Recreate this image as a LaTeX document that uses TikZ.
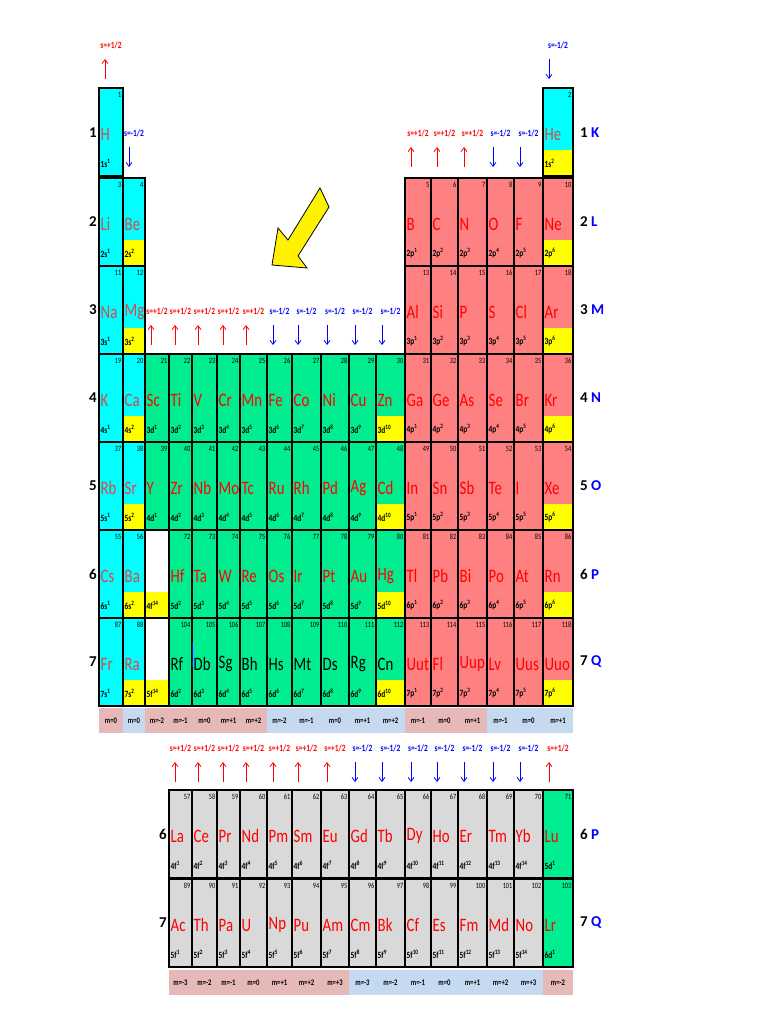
\documentclass[tikz,border=0pt]{standalone}
\usepackage{fontspec}
\setmainfont{Carlito}
\newfontfamily\condfont[FakeStretch=0.78]{Carlito}
\usetikzlibrary{arrows.meta}
\definecolor{cS}{HTML}{00FFFF}
\definecolor{cD}{HTML}{00EE90}
\definecolor{cP}{HTML}{FF8080}
\definecolor{cF}{HTML}{D9D9D9}
\definecolor{cY}{HTML}{FFFF00}
\definecolor{sR}{HTML}{D84848}
\definecolor{mP}{HTML}{E6B8B7}
\definecolor{mB}{HTML}{C5D9F1}
\definecolor{spR}{HTML}{FF0000}
\definecolor{spB}{HTML}{0000FF}
\newcommand\supx[1]{\textsuperscript{#1}}
\def\cx{{99,123,145,169,192,217,240,267,292,321,349,376,405,431,458,487,514,543,573}}
\tikzset{
 numtxt/.style={font=\condfont\fontsize{8}{8}\selectfont,inner sep=0pt,anchor=north east},
 symtxt/.style={font=\condfont\fontsize{19}{19}\selectfont,inner sep=0pt,anchor=west},
 conftxt/.style={font=\condfont\bfseries\fontsize{9.5}{9.5}\selectfont,inner sep=0pt,anchor=west},
 spintxt/.style={font=\condfont\bfseries\fontsize{9.5}{9.5}\selectfont,inner sep=0pt},
 mtxt/.style={font=\condfont\bfseries\fontsize{8.5}{8.5}\selectfont,inner sep=0pt},
 pertxt/.style={font=\bfseries\fontsize{15}{15}\selectfont,inner sep=0pt},
 upar/.style={spR,line width=0.8pt,-{Straight Barb[length=4pt,width=6pt]}},
 dnar/.style={spB,line width=0.8pt,-{Straight Barb[length=4pt,width=6pt]}},
 cellline/.style={black,line width=1.2pt}
}
% \cell{col}{top}{num}{sym}{conf}{fill}{bottom}{symcolor}
\newcommand\cell[8]{%
 \pgfmathsetmacro\xl{\cx[#1-1]}\pgfmathsetmacro\xr{\cx[#1]}%
 \fill[#6] (\xl,#2) rectangle (\xr,#2+88);
 \fill[#7] (\xl,#2+62) rectangle (\xr,#2+88);
 \draw[cellline] (\xl,#2) rectangle (\xr,#2+88);
 \node[numtxt] (n#1x#2) at (\xr-1.5,#2+4) {#3};
 \node[symtxt,text=#8] (s#1x#2) at (\xl+1.5,#2+46) {#4};
 \node[conftxt] (c#1x#2) at (\xl+1.5,#2+75) {#5};
}
\newcommand\mcell[4]{% col, top, color, text
 \pgfmathsetmacro\xl{\cx[#1-1]}\pgfmathsetmacro\xr{\cx[#1]}%
 \fill[#3] (\xl,#2) rectangle (\xr,#2+25);
 \node[mtxt] (m#1x#2) at ({(\xl+\xr)/2},#2+12.5) {#4};
}
\newcommand\spin[4]{% col, labely, up/dn, text
 \pgfmathsetmacro\xl{\cx[#1-1]}\pgfmathsetmacro\xr{\cx[#1]}%
 \ifnum#3=1
 \node[spintxt,text=spR] (sp#1x#2) at ({(\xl+\xr)/2},#2) {#4};
 \coordinate (a#1x#2) at (\xl+6,#2+34); \coordinate (b#1x#2) at (\xl+6,#2+14);
 \draw[upar] (a#1x#2) -- (b#1x#2);
 \else
 \node[spintxt,text=spB] (sp#1x#2) at ({(\xl+\xr)/2},#2) {#4};
 \coordinate (a#1x#2) at (\xl+6,#2+14); \coordinate (b#1x#2) at (\xl+6,#2+34);
 \draw[dnar] (a#1x#2) -- (b#1x#2);
 \fi
}
\begin{document}
\begin{tikzpicture}[x=1pt,y=-1pt]
\useasboundingbox (0,0) rectangle (768,1024);
% row 1
\cell{1}{88}{1}{H}{1s\supx1}{cS}{cS}{sR}
\cell{18}{88}{2}{He}{1s\supx2}{cS}{cY}{sR}
% row 2
\cell{1}{178}{3}{Li}{2s\supx1}{cS}{cS}{sR}
\cell{2}{178}{4}{Be}{2s\supx2}{cS}{cY}{sR}
\cell{13}{178}{5}{B}{2p\supx1}{cP}{cP}{red}
\cell{14}{178}{6}{C}{2p\supx2}{cP}{cP}{red}
\cell{15}{178}{7}{N}{2p\supx3}{cP}{cP}{red}
\cell{16}{178}{8}{O}{2p\supx4}{cP}{cP}{red}
\cell{17}{178}{9}{F}{2p\supx5}{cP}{cP}{red}
\cell{18}{178}{10}{Ne}{2p\supx6}{cP}{cY}{red}
% row 3
\cell{1}{266}{11}{Na}{3s\supx1}{cS}{cS}{sR}
\cell{2}{266}{12}{Mg}{3s\supx2}{cS}{cY}{sR}
\cell{13}{266}{13}{Al}{3p\supx1}{cP}{cP}{red}
\cell{14}{266}{14}{Si}{3p\supx2}{cP}{cP}{red}
\cell{15}{266}{15}{P}{3p\supx3}{cP}{cP}{red}
\cell{16}{266}{16}{S}{3p\supx4}{cP}{cP}{red}
\cell{17}{266}{17}{Cl}{3p\supx5}{cP}{cP}{red}
\cell{18}{266}{18}{Ar}{3p\supx6}{cP}{cY}{red}
% row 4
\cell{1}{354}{19}{K}{4s\supx1}{cS}{cS}{sR}
\cell{2}{354}{20}{Ca}{4s\supx2}{cS}{cY}{sR}
\cell{3}{354}{21}{Sc}{3d\supx1}{cD}{cD}{red}
\cell{4}{354}{22}{Ti}{3d\supx2}{cD}{cD}{red}
\cell{5}{354}{23}{V}{3d\supx3}{cD}{cD}{red}
\cell{6}{354}{24}{Cr}{3d\supx4}{cD}{cD}{red}
\cell{7}{354}{25}{Mn}{3d\supx5}{cD}{cD}{red}
\cell{8}{354}{26}{Fe}{3d\supx6}{cD}{cD}{red}
\cell{9}{354}{27}{Co}{3d\supx7}{cD}{cD}{red}
\cell{10}{354}{28}{Ni}{3d\supx8}{cD}{cD}{red}
\cell{11}{354}{29}{Cu}{3d\supx9}{cD}{cD}{red}
\cell{12}{354}{30}{Zn}{3d\supx{10}}{cD}{cY}{red}
\cell{13}{354}{31}{Ga}{4p\supx1}{cP}{cP}{red}
\cell{14}{354}{32}{Ge}{4p\supx2}{cP}{cP}{red}
\cell{15}{354}{33}{As}{4p\supx3}{cP}{cP}{red}
\cell{16}{354}{34}{Se}{4p\supx4}{cP}{cP}{red}
\cell{17}{354}{35}{Br}{4p\supx5}{cP}{cP}{red}
\cell{18}{354}{36}{Kr}{4p\supx6}{cP}{cY}{red}
% row 5
\cell{1}{442}{37}{Rb}{5s\supx1}{cS}{cS}{sR}
\cell{2}{442}{38}{Sr}{5s\supx2}{cS}{cY}{sR}
\cell{3}{442}{39}{Y}{4d\supx1}{cD}{cD}{red}
\cell{4}{442}{40}{Zr}{4d\supx2}{cD}{cD}{red}
\cell{5}{442}{41}{Nb}{4d\supx3}{cD}{cD}{red}
\cell{6}{442}{42}{Mo}{4d\supx4}{cD}{cD}{red}
\cell{7}{442}{43}{Tc}{4d\supx5}{cD}{cD}{red}
\cell{8}{442}{44}{Ru}{4d\supx6}{cD}{cD}{red}
\cell{9}{442}{45}{Rh}{4d\supx7}{cD}{cD}{red}
\cell{10}{442}{46}{Pd}{4d\supx8}{cD}{cD}{red}
\cell{11}{442}{47}{Ag}{4d\supx9}{cD}{cD}{red}
\cell{12}{442}{48}{Cd}{4d\supx{10}}{cD}{cY}{red}
\cell{13}{442}{49}{In}{5p\supx1}{cP}{cP}{red}
\cell{14}{442}{50}{Sn}{5p\supx2}{cP}{cP}{red}
\cell{15}{442}{51}{Sb}{5p\supx3}{cP}{cP}{red}
\cell{16}{442}{52}{Te}{5p\supx4}{cP}{cP}{red}
\cell{17}{442}{53}{I}{5p\supx5}{cP}{cP}{red}
\cell{18}{442}{54}{Xe}{5p\supx6}{cP}{cY}{red}
% row 6
\cell{1}{530}{55}{Cs}{6s\supx1}{cS}{cS}{sR}
\cell{2}{530}{56}{Ba}{6s\supx2}{cS}{cY}{sR}
\cell{3}{530}{}{}{4f\supx{14}}{white}{cY}{red}
\cell{4}{530}{72}{Hf}{5d\supx2}{cD}{cD}{red}
\cell{5}{530}{73}{Ta}{5d\supx3}{cD}{cD}{red}
\cell{6}{530}{74}{W}{5d\supx4}{cD}{cD}{red}
\cell{7}{530}{75}{Re}{5d\supx5}{cD}{cD}{red}
\cell{8}{530}{76}{Os}{5d\supx6}{cD}{cD}{red}
\cell{9}{530}{77}{Ir}{5d\supx7}{cD}{cD}{red}
\cell{10}{530}{78}{Pt}{5d\supx8}{cD}{cD}{red}
\cell{11}{530}{79}{Au}{5d\supx9}{cD}{cD}{red}
\cell{12}{530}{80}{Hg}{5d\supx{10}}{cD}{cY}{red}
\cell{13}{530}{81}{Tl}{6p\supx1}{cP}{cP}{red}
\cell{14}{530}{82}{Pb}{6p\supx2}{cP}{cP}{red}
\cell{15}{530}{83}{Bi}{6p\supx3}{cP}{cP}{red}
\cell{16}{530}{84}{Po}{6p\supx4}{cP}{cP}{red}
\cell{17}{530}{85}{At}{6p\supx5}{cP}{cP}{red}
\cell{18}{530}{86}{Rn}{6p\supx6}{cP}{cY}{red}
% row 7
\cell{1}{618}{87}{Fr}{7s\supx1}{cS}{cS}{sR}
\cell{2}{618}{88}{Ra}{7s\supx2}{cS}{cY}{sR}
\cell{3}{618}{}{}{5f\supx{14}}{white}{cY}{red}
\cell{4}{618}{104}{Rf}{6d\supx2}{cD}{cD}{black}
\cell{5}{618}{105}{Db}{6d\supx3}{cD}{cD}{black}
\cell{6}{618}{106}{Sg}{6d\supx4}{cD}{cD}{black}
\cell{7}{618}{107}{Bh}{6d\supx5}{cD}{cD}{black}
\cell{8}{618}{108}{Hs}{6d\supx6}{cD}{cD}{black}
\cell{9}{618}{109}{Mt}{6d\supx7}{cD}{cD}{black}
\cell{10}{618}{110}{Ds}{6d\supx8}{cD}{cD}{black}
\cell{11}{618}{111}{Rg}{6d\supx9}{cD}{cD}{black}
\cell{12}{618}{112}{Cn}{6d\supx{10}}{cD}{cY}{black}
\cell{13}{618}{113}{Uut}{7p\supx1}{cP}{cP}{red}
\cell{14}{618}{114}{Fl}{7p\supx2}{cP}{cP}{red}
\cell{15}{618}{115}{Uup}{7p\supx3}{cP}{cP}{red}
\cell{16}{618}{116}{Lv}{7p\supx4}{cP}{cP}{red}
\cell{17}{618}{117}{Uus}{7p\supx5}{cP}{cP}{red}
\cell{18}{618}{118}{Uuo}{7p\supx6}{cP}{cY}{red}
\draw[blue,line width=1.5pt] (192.5,642) -- (192.5,667);
% f block
\cell{4}{790}{57}{La}{4f\supx1}{cF}{cF}{red}
\cell{5}{790}{58}{Ce}{4f\supx2}{cF}{cF}{red}
\cell{6}{790}{59}{Pr}{4f\supx3}{cF}{cF}{red}
\cell{7}{790}{60}{Nd}{4f\supx4}{cF}{cF}{red}
\cell{8}{790}{61}{Pm}{4f\supx5}{cF}{cF}{red}
\cell{9}{790}{62}{Sm}{4f\supx6}{cF}{cF}{red}
\cell{10}{790}{63}{Eu}{4f\supx7}{cF}{cF}{red}
\cell{11}{790}{64}{Gd}{4f\supx8}{cF}{cF}{red}
\cell{12}{790}{65}{Tb}{4f\supx9}{cF}{cF}{red}
\cell{13}{790}{66}{Dy}{4f\supx{10}}{cF}{cF}{red}
\cell{14}{790}{67}{Ho}{4f\supx{11}}{cF}{cF}{red}
\cell{15}{790}{68}{Er}{4f\supx{12}}{cF}{cF}{red}
\cell{16}{790}{69}{Tm}{4f\supx{13}}{cF}{cF}{red}
\cell{17}{790}{70}{Yb}{4f\supx{14}}{cF}{cF}{red}
\cell{18}{790}{71}{Lu}{5d\supx1}{cD}{cD}{red}
\cell{4}{879}{89}{Ac}{5f\supx1}{cF}{cF}{red}
\cell{5}{879}{90}{Th}{5f\supx2}{cF}{cF}{red}
\cell{6}{879}{91}{Pa}{5f\supx3}{cF}{cF}{red}
\cell{7}{879}{92}{U}{5f\supx4}{cF}{cF}{red}
\cell{8}{879}{93}{Np}{5f\supx5}{cF}{cF}{red}
\cell{9}{879}{94}{Pu}{5f\supx6}{cF}{cF}{red}
\cell{10}{879}{95}{Am}{5f\supx7}{cF}{cF}{red}
\cell{11}{879}{96}{Cm}{5f\supx8}{cF}{cF}{red}
\cell{12}{879}{97}{Bk}{5f\supx9}{cF}{cF}{red}
\cell{13}{879}{98}{Cf}{5f\supx{10}}{cF}{cF}{red}
\cell{14}{879}{99}{Es}{5f\supx{11}}{cF}{cF}{red}
\cell{15}{879}{100}{Fm}{5f\supx{12}}{cF}{cF}{red}
\cell{16}{879}{101}{Md}{5f\supx{13}}{cF}{cF}{red}
\cell{17}{879}{102}{No}{5f\supx{14}}{cF}{cF}{red}
\cell{18}{879}{103}{Lr}{6d\supx1}{cD}{cD}{red}
% m rows
\mcell{1}{708}{mP}{m=0}\mcell{2}{708}{mB}{m=0}
\mcell{3}{708}{mP}{m=-2}\mcell{4}{708}{mP}{m=-1}\mcell{5}{708}{mP}{m=0}\mcell{6}{708}{mP}{m=+1}\mcell{7}{708}{mP}{m=+2}
\mcell{8}{708}{mB}{m=-2}\mcell{9}{708}{mB}{m=-1}\mcell{10}{708}{mB}{m=0}\mcell{11}{708}{mB}{m=+1}\mcell{12}{708}{mB}{m=+2}
\mcell{13}{708}{mP}{m=-1}\mcell{14}{708}{mP}{m=0}\mcell{15}{708}{mP}{m=+1}
\mcell{16}{708}{mB}{m=-1}\mcell{17}{708}{mB}{m=0}\mcell{18}{708}{mB}{m=+1}
\mcell{4}{970}{mP}{m=-3}\mcell{5}{970}{mP}{m=-2}\mcell{6}{970}{mP}{m=-1}\mcell{7}{970}{mP}{m=0}\mcell{8}{970}{mP}{m=+1}\mcell{9}{970}{mP}{m=+2}\mcell{10}{970}{mP}{m=+3}
\mcell{11}{970}{mB}{m=-3}\mcell{12}{970}{mB}{m=-2}\mcell{13}{970}{mB}{m=-1}\mcell{14}{970}{mB}{m=0}\mcell{15}{970}{mB}{m=+1}\mcell{16}{970}{mB}{m=+2}\mcell{17}{970}{mB}{m=+3}
\mcell{18}{970}{mP}{m=-2}
% spins
\spin{1}{45}{1}{s=+1/2}
\spin{18}{45}{0}{s=-1/2}
\spin{2}{133}{0}{s=-1/2}
\spin{13}{133}{1}{s=+1/2}\spin{14}{133}{1}{s=+1/2}\spin{15}{133}{1}{s=+1/2}
\spin{16}{133}{0}{s=-1/2}\spin{17}{133}{0}{s=-1/2}
\spin{3}{311}{1}{s=+1/2}\spin{4}{311}{1}{s=+1/2}\spin{5}{311}{1}{s=+1/2}\spin{6}{311}{1}{s=+1/2}\spin{7}{311}{1}{s=+1/2}
\spin{8}{311}{0}{s=-1/2}\spin{9}{311}{0}{s=-1/2}\spin{10}{311}{0}{s=-1/2}\spin{11}{311}{0}{s=-1/2}\spin{12}{311}{0}{s=-1/2}
\spin{4}{748}{1}{s=+1/2}\spin{5}{748}{1}{s=+1/2}\spin{6}{748}{1}{s=+1/2}\spin{7}{748}{1}{s=+1/2}\spin{8}{748}{1}{s=+1/2}\spin{9}{748}{1}{s=+1/2}\spin{10}{748}{1}{s=+1/2}
\spin{11}{748}{0}{s=-1/2}\spin{12}{748}{0}{s=-1/2}\spin{13}{748}{0}{s=-1/2}\spin{14}{748}{0}{s=-1/2}\spin{15}{748}{0}{s=-1/2}\spin{16}{748}{0}{s=-1/2}\spin{17}{748}{0}{s=-1/2}
\spin{18}{748}{1}{s=+1/2}
% period labels
\foreach \n/\L/\y in {1/K/133,2/L/222,3/M/310,4/N/398,5/O/486,6/P/574,7/Q/662}{
 \node[pertxt,anchor=east] (pl\n) at (97,\y) {\n};
 \node[pertxt,anchor=west] (pr\n) at (580,\y) {\n\ \textcolor{blue}{\L}};
}
\node[pertxt,anchor=east] (fl6) at (167,834) {6};
\node[pertxt,anchor=west] (fr6) at (580,834) {6\ \textcolor{blue}{P}};
\node[pertxt,anchor=east] (fl7) at (167,923) {7};
\node[pertxt,anchor=west] (fr7) at (580,923) {7\ \textcolor{blue}{Q}};
% yellow arrow
\draw[fill=yellow,line width=0.8pt] (272,265) -- (278,228) -- (288,240) -- (320,188) -- (329,207) -- (298,256) -- (307,268) -- cycle;
\end{tikzpicture}
\end{document}
